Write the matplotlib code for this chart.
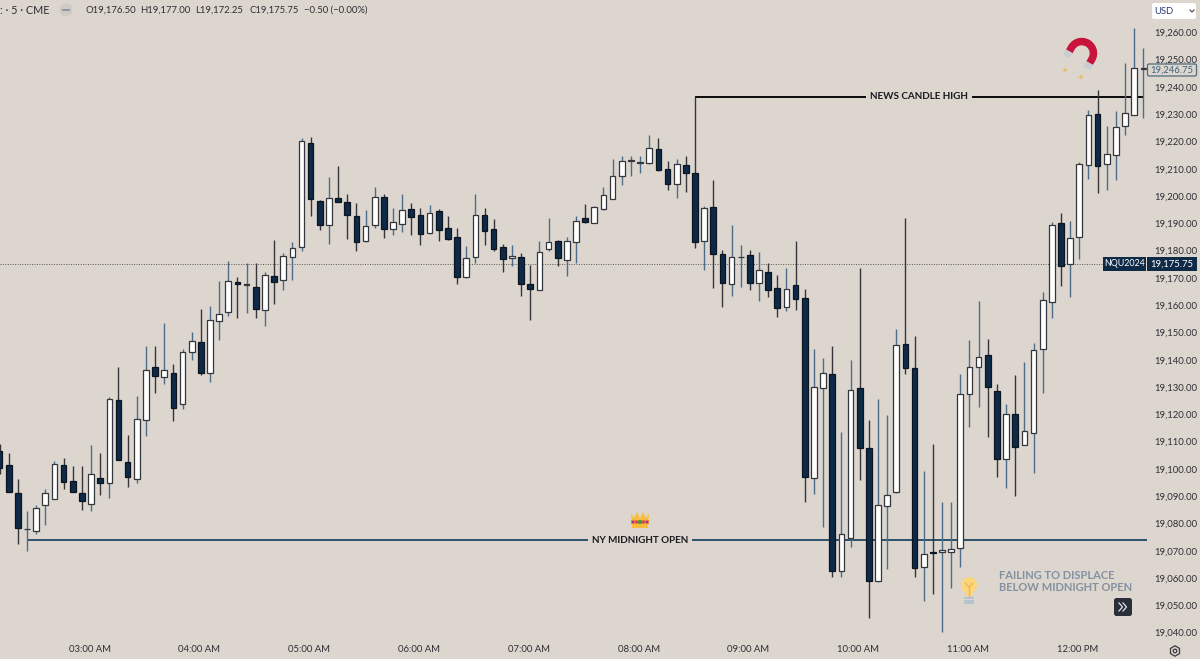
import matplotlib
matplotlib.use("Agg")
import matplotlib.pyplot as plt
import matplotlib.patches as patches
import matplotlib.transforms as mtrans
import numpy as np

plt.rcParams['font.family'] = ['Lato', 'DejaVu Sans']

# =====================================================================
# DATA (5 minute bars)
# =====================================================================
opens = [
    19106.4, 19101.5, 19091.2, 19077.9, 19077.1, 19086.6, 19089.0, 19101.5, 19095.5, 19091.2,
    19087.1, 19096.8, 19094.7, 19125.4, 19102.5, 19096.2, 19117.9, 19137.3, 19133.6, 19135.1,
    19123.7, 19142.8, 19146.4, 19135.3, 19154.1, 19157.6, 19168.4, 19167.5, 19166.7, 19158.4,
    19170.6, 19169.2, 19177.8, 19181.4, 19219.4, 19198.2, 19189.3, 19199.4, 19198.0, 19192.7,
    19183.6, 19189.3, 19199.7, 19188.1, 19189.9, 19195.2, 19193.0, 19186.4, 19194.7, 19188.3,
    19185.0, 19170.2, 19177.6, 19193.0, 19187.8, 19181.4, 19177.2, 19177.8, 19167.8, 19165.6,
    19180.5, 19183.6, 19176.5, 19183.1, 19192.0, 19190.3, 19195.4, 19199.1, 19207.5, 19212.9,
    19212.0, 19212.1, 19217.2, 19209.8, 19204.3, 19211.3, 19208.4, 19183.6, 19196.0, 19178.8,
    19167.7, 19177.5, 19178.3, 19168.3, 19172.2, 19166.2, 19159.4, 19167.3, 19162.5, 19096.5,
    19129.8, 19134.8, 19062.7, 19074.6, 19129.6, 19107.6, 19059.1, 19086.4, 19091.4, 19145.6,
    19137.0, 19064.0, 19069.5, 19069.5, 19069.6, 19070.9, 19127.3, 19137.2, 19141.7, 19128.7,
    19103.6, 19120.3, 19108.9, 19113.0, 19143.8, 19161.3, 19190.0, 19175.0, 19184.9, 19211.2,
    19230.1, 19211.6, 19215.2, 19225.7, 19229.8, 19246.5,
]
highs = [
    19109.0, 19105.8, 19096.3, 19084.7, 19086.8, 19092.7, 19103.0, 19103.9, 19100.9, 19100.9,
    19108.8, 19105.8, 19126.2, 19137.4, 19112.5, 19126.7, 19145.2, 19145.0, 19153.3, 19138.3,
    19143.9, 19150.2, 19158.5, 19159.6, 19168.8, 19176.2, 19170.4, 19175.4, 19175.3, 19172.3,
    19183.8, 19179.1, 19183.1, 19221.2, 19221.5, 19198.6, 19207.0, 19210.9, 19200.9, 19197.4,
    19194.9, 19203.4, 19200.7, 19195.7, 19200.9, 19197.6, 19195.7, 19196.8, 19195.2, 19192.8,
    19188.2, 19181.7, 19200.9, 19195.7, 19191.7, 19182.5, 19182.0, 19179.0, 19174.9, 19183.7,
    19192.0, 19183.9, 19184.9, 19192.6, 19197.0, 19196.4, 19203.4, 19213.5, 19214.6, 19214.5,
    19214.7, 19222.5, 19221.2, 19212.8, 19213.6, 19214.7, 19236.4, 19196.4, 19205.9, 19180.3,
    19189.3, 19182.0, 19180.3, 19179.5, 19175.3, 19171.2, 19173.7, 19183.7, 19166.0, 19143.8,
    19140.7, 19145.2, 19113.6, 19139.9, 19173.5, 19118.0, 19125.5, 19119.7, 19151.3, 19192.0,
    19148.7, 19099.3, 19109.2, 19087.8, 19088.0, 19134.9, 19147.2, 19161.5, 19147.6, 19131.3,
    19123.8, 19134.4, 19139.0, 19146.0, 19164.7, 19190.5, 19193.9, 19190.7, 19212.5, 19231.5,
    19238.9, 19225.7, 19231.0, 19248.9, 19261.6, 19254.1,
]
lows = [
    19098.0, 19091.5, 19072.4, 19070.1, 19076.2, 19079.5, 19088.9, 19092.8, 19091.4, 19085.0,
    19084.4, 19090.3, 19089.2, 19103.3, 19093.2, 19095.0, 19112.2, 19128.0, 19131.0, 19117.7,
    19122.1, 19140.0, 19134.3, 19131.7, 19147.2, 19156.2, 19155.4, 19157.2, 19155.2, 19152.2,
    19160.5, 19165.6, 19169.3, 19180.0, 19192.8, 19187.4, 19182.6, 19198.0, 19184.3, 19179.7,
    19183.0, 19188.2, 19184.5, 19185.9, 19186.9, 19185.6, 19181.9, 19186.2, 19183.4, 19183.9,
    19167.9, 19170.1, 19175.6, 19182.1, 19179.8, 19172.3, 19174.4, 19163.2, 19154.4, 19165.5,
    19179.9, 19174.5, 19170.7, 19175.4, 19190.3, 19190.0, 19194.9, 19199.0, 19204.1, 19207.4,
    19208.4, 19211.7, 19209.0, 19202.3, 19199.2, 19201.5, 19181.0, 19172.9, 19166.3, 19159.4,
    19163.2, 19166.6, 19165.7, 19161.6, 19162.9, 19155.8, 19157.9, 19158.4, 19088.0, 19090.8,
    19078.7, 19060.3, 19060.5, 19071.2, 19096.1, 19045.2, 19058.7, 19063.4, 19091.3, 19134.9,
    19060.3, 19051.5, 19054.0, 19040.1, 19056.4, 19064.0, 19115.3, 19122.8, 19111.8, 19096.9,
    19093.1, 19090.2, 19108.7, 19098.6, 19127.7, 19155.4, 19167.0, 19162.9, 19177.0, 19206.4,
    19201.0, 19202.2, 19205.9, 19222.4, 19229.8, 19228.7,
]
closes = [
    19100.5, 19091.7, 19078.3, 19078.1, 19085.8, 19091.1, 19101.8, 19095.1, 19091.6, 19088.4,
    19098.3, 19094.9, 19125.7, 19103.4, 19097.1, 19118.2, 19136.2, 19134.2, 19136.2, 19122.4,
    19142.9, 19147.0, 19135.3, 19154.5, 19156.8, 19168.7, 19167.6, 19167.8, 19158.6, 19170.9,
    19168.4, 19178.1, 19180.9, 19220.2, 19199.1, 19189.4, 19199.2, 19198.0, 19193.1, 19183.1,
    19189.2, 19199.7, 19188.1, 19190.6, 19195.0, 19192.5, 19186.2, 19193.9, 19187.7, 19184.1,
    19170.2, 19177.2, 19193.0, 19187.2, 19180.5, 19177.0, 19177.9, 19167.8, 19165.9, 19179.4,
    19183.3, 19177.2, 19183.7, 19191.0, 19190.5, 19196.1, 19200.5, 19207.5, 19212.8, 19213.1,
    19212.4, 19217.5, 19209.7, 19204.6, 19211.7, 19208.6, 19183.0, 19195.8, 19178.6, 19168.1,
    19177.6, 19177.7, 19168.3, 19172.8, 19165.4, 19159.1, 19165.9, 19162.4, 19097.1, 19129.9,
    19135.3, 19062.7, 19076.3, 19128.9, 19107.8, 19059.1, 19086.7, 19090.5, 19145.3, 19137.1,
    19063.8, 19068.9, 19069.2, 19070.2, 19070.8, 19127.6, 19137.2, 19140.9, 19130.0, 19103.6,
    19120.3, 19108.1, 19114.0, 19143.4, 19162.0, 19189.4, 19174.4, 19184.7, 19211.6, 19229.6,
    19211.0, 19215.5, 19225.2, 19230.4, 19246.8, 19246.75,
]

price_ticks = [19040, 19050, 19060, 19070, 19080, 19090, 19100, 19110, 19120, 19130, 19140, 19150,
               19160, 19170, 19180, 19190, 19200, 19210, 19220, 19230, 19240, 19250, 19260]
time_ticks = [10, 22, 34, 46, 58, 70, 82, 94, 106, 118]
time_labels = ["03:00 AM", "04:00 AM", "05:00 AM", "06:00 AM", "07:00 AM",
               "08:00 AM", "09:00 AM", "10:00 AM", "11:00 AM", "12:00 PM"]

midnight_open = 19073.9
news_high = 19236.4
news_bar = 76
midnight_start_bar = 3
last_bar = 125
symbol_price = 19175.2

BG = '#dcd6cf'
NAVY = '#0e2a47'
TEXT = '#2e2e33'

fig = plt.figure(figsize=(12, 6.59), dpi=100, facecolor=BG)

# Price pane, the right and bottom strips are the tick labels
ax = fig.add_axes([0, 19 / 659, 1147 / 1200, 640 / 659], facecolor=BG)
ax.set_xlim(0.05, 125.4)
ax.set_ylim(19037.3, 19271.85)
for side in ax.spines.values():
    side.set_visible(False)

ax.yaxis.tick_right()
ax.set_yticks(price_ticks)
ax.set_yticklabels([f"{p:,.2f}" for p in price_ticks], fontsize=6.8, color=TEXT)
ax.set_xticks(time_ticks)
ax.set_xticklabels(time_labels, fontsize=6.8, color=TEXT)
ax.tick_params(axis='both', length=0)
ax.tick_params(axis='y', pad=5)
ax.tick_params(axis='x', pad=4)
nudge = mtrans.ScaledTranslation(-1.5 / 100, 0.5 / 100, fig.dpi_scale_trans)
for lab in ax.get_xticklabels():
    lab.set_transform(lab.get_transform() + nudge)

# Candles
bars = np.arange(len(opens))
o = np.array(opens)
h = np.array(highs)
l = np.array(lows)
c = np.array(closes)
up = c >= o

ax.vlines(bars[up], l[up], h[up], color='#4d6d8a', linewidth=1.0, zorder=3)
ax.vlines(bars[~up], l[~up], h[~up], color='#35353a', linewidth=1.0, zorder=3)
ax.bar(bars[up], (c - o)[up], bottom=o[up], width=0.62, color='white',
       edgecolor='#33363a', linewidth=0.9, zorder=4)
ax.bar(bars[~up], (c - o)[~up], bottom=o[~up], width=0.62, color=NAVY,
       edgecolor='#0b1420', linewidth=0.9, zorder=4)

# Drawn levels
ax.axhline(symbol_price, xmax=1103 / 1147, color='#55585c', linewidth=0.7, linestyle=(0, (1, 1.5)), zorder=1)
ax.hlines(midnight_open, midnight_start_bar, ax.get_xlim()[1], color='#0f3a5a', linewidth=1.2, zorder=2)
ax.hlines(news_high, news_bar, last_bar, color='#0a0a0a', linewidth=1.4, zorder=2)

label_box = dict(facecolor=BG, edgecolor='none', pad=3.0)
ax.text(70.0, midnight_open, "NY MIDNIGHT OPEN", fontsize=7.1, fontweight='bold', color='#1a1a1f',
        ha='center', va='center', bbox=label_box, zorder=3)
ax.text(100.5, news_high, "NEWS CANDLE HIGH", fontsize=7.1, fontweight='bold', color='#1a1a1f',
        ha='center', va='center', bbox=label_box, zorder=3)

# Overlay in screen pixels for the interface bits and the stickers
ui = fig.add_axes([0, 0, 1, 1], facecolor='none')
ui.set_xlim(0, 1200)
ui.set_ylim(659, 0)
ui.axis('off')

# Header line
ui.text(0, 10, ": · 5 · CME", fontsize=7.8, color=TEXT, va='center')
ui.add_patch(patches.Circle((66, 10), 6.5, facecolor='#cfcac4', edgecolor='none'))
ui.add_patch(patches.Rectangle((62, 9), 8, 2, facecolor='#8e98a5', edgecolor='none'))
for x, s in [(85, "O19,176.50"), (140, "H19,177.00"), (195, "L19,172.25"), (249, "C19,175.75"),
             (304, "−0.50 (−0.00%)")]:
    ui.text(x, 10, s, fontsize=6.8, color=TEXT, va='center')

# Currency box
ui.add_patch(patches.FancyBboxPatch((1152, 3), 44, 16, boxstyle="round,pad=0,rounding_size=2",
                                    facecolor='white', edgecolor='none'))
ui.text(1154, 11, "USD", fontsize=6.8, color='#2b3a7a', va='center')
ui.plot([1190, 1192, 1194], [10, 12, 10], color='#444444', linewidth=0.8)

# Price tags
ui.add_patch(patches.FancyBboxPatch((1147.5, 64), 49, 12, boxstyle="round,pad=0,rounding_size=1.5",
                                    facecolor=BG, edgecolor='#4f6b7d', linewidth=0.9))
ui.text(1172, 70, "19,246.75", fontsize=6.8, color='#3e6280', ha='center', va='center')
ui.add_patch(patches.Rectangle((1103, 257), 43, 13.5, facecolor=NAVY, edgecolor='none'))
ui.add_patch(patches.Rectangle((1147, 257), 50, 13.5, facecolor=NAVY, edgecolor='none'))
ui.text(1124.5, 263.7, "NQU2024", fontsize=6.4, color='white', ha='center', va='center')
ui.text(1172, 263.7, "19,175.75", fontsize=6.8, color='white', ha='center', va='center')

# Magnet, U shape tilted so the poles point down and to the left
mx, my = 1081.7, 53.3
ang = np.radians(30)
ux, uy = np.cos(ang), np.sin(ang)
vx, vy = -np.sin(ang), np.cos(ang)
ui.add_patch(patches.Wedge((mx, my), 15.5, 210, 30, width=7.5, facecolor='#c8133a', edgecolor='none'))
for off in (-11.75, 11.75):
    cx = mx + off * ux
    cy = my + off * uy
    for start, stop, col in [(-0.3, 4.5, '#c8133a'), (4.5, 10.5, '#c9cdd2')]:
        ui.add_patch(patches.Polygon([(cx - 3.75 * ux + start * vx, cy - 3.75 * uy + start * vy),
                                      (cx + 3.75 * ux + start * vx, cy + 3.75 * uy + start * vy),
                                      (cx + 3.75 * ux + stop * vx, cy + 3.75 * uy + stop * vy),
                                      (cx - 3.75 * ux + stop * vx, cy - 3.75 * uy + stop * vy)],
                                     facecolor=col, edgecolor='none'))
for bx, by in [(1065, 70), (1081, 77)]:
    ui.add_patch(patches.Polygon([(bx + 2, by - 3.5), (bx - 2.5, by + 0.5), (bx + 0.5, by + 0.5),
                                  (bx - 2, by + 3.5), (bx + 2.5, by - 0.5), (bx - 0.5, by - 0.5)],
                                 facecolor='#f6a821', edgecolor='none'))

# Crown
ui.add_patch(patches.Polygon([(631, 513), (634, 518), (637, 512), (640, 518), (643, 512), (646, 518),
                              (649, 513), (648, 528), (632, 528)], facecolor='#f8bd3f', edgecolor='none'))
ui.add_patch(patches.Rectangle((631, 520), 18, 4, facecolor='#e98f2b', edgecolor='none'))
for gx, col in [(633, '#a32cc4'), (636.5, '#d8336b'), (640, '#3f9a3a'), (643.5, '#d8336b'), (647, '#a32cc4')]:
    ui.add_patch(patches.Circle((gx, 522), 1.3 if col != '#3f9a3a' else 2.0, facecolor=col, edgecolor='none'))

# Bulb
ui.add_patch(patches.Circle((969, 585), 8, facecolor='#fdd67c', edgecolor='none'))
ui.add_patch(patches.Polygon([(964, 590), (974, 590), (972, 596), (966, 596)], facecolor='#fdd67c', edgecolor='none'))
ui.plot([969, 969], [596, 587], color='#e8b75a', linewidth=1.0)
ui.plot([965.5, 969, 972.5], [583.5, 587, 583.5], color='#e8b75a', linewidth=1.0)
for ly in (598, 600.5, 603):
    ui.plot([965, 973], [ly, ly], color='#aebfd0', linewidth=1.2)

ui.text(999, 575.5, "FAILING TO DISPLACE", fontsize=8.0, fontweight='bold', color='#8391a0', va='center')
ui.text(999, 587.5, "BELOW MIDNIGHT OPEN", fontsize=8.0, fontweight='bold', color='#8391a0', va='center')

# Scroll button
ui.add_patch(patches.FancyBboxPatch((1114, 598), 18, 18, boxstyle="round,pad=0,rounding_size=2.5",
                                    facecolor='#2a2e39', edgecolor='none'))
for dx in (0, 4):
    ui.plot([1119 + dx, 1122.5 + dx, 1119 + dx], [603, 607, 611], color='#dfe3ea', linewidth=0.9)

# Settings cog
hexa = [(1175 + 5.2 * np.cos(t), 651 + 5.2 * np.sin(t)) for t in np.radians(np.arange(30, 390, 60))]
ui.add_patch(patches.Polygon(hexa, facecolor='none', edgecolor='#3a3a40', linewidth=0.9))
ui.add_patch(patches.Circle((1175, 651), 1.8, facecolor='none', edgecolor='#3a3a40', linewidth=0.9))

fig.savefig("out.png", dpi=100, facecolor=BG)
